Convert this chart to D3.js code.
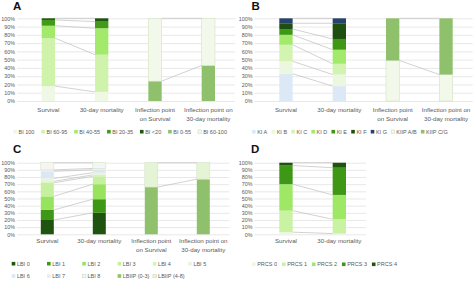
<!DOCTYPE html>
<html>
<head>
<meta charset="utf-8">
<script src="https://d3js.org/d3.v7.min.js"></script>
<style>
body { margin: 0; background: #fff; }
svg { display: block; font-family: "Liberation Sans", Arial, sans-serif; }
.tick-label { font-size: 5.4px; fill: #595959; }
.cat-label { font-size: 6.2px; fill: #595959; }
.legend-label { font-size: 5.5px; fill: #595959; }
.panel-letter { font-size: 11.5px; font-weight: bold; fill: #111; }
</style>
</head>
<body>
<div id="chart"></div>
<script>
// categories and ticks
var categories = ['Survival', '30-day mortality', 'Inflection point|on Survival', 'Inflection point on|30-day mortality'];
var categoriesD = ['Survival', '30-day mortality'];
var yTicks = [0, 10, 20, 30, 40, 50, 60, 70, 80, 90, 100];

// A - Barthel index
var biNames = ['BI 100', 'BI 60-95', 'BI 40-55', 'BI 20-35', 'BI <20'];
var biSurvival = [18, 58, 15, 7, 2];
var biMortality = [11, 45, 32, 8, 4];
var biipNames = ['BI 0-55', 'BI 60-100'];
var biipSurvival = [24, 76];
var biipMortality = [43, 57];

// B - Katz index
var kiNames = ['KI A', 'KI B', 'KI C', 'KI D', 'KI E', 'KI F', 'KI G'];
var kiSurvival = [33, 15, 20, 12, 7, 7, 6];
var kiMortality = [18, 14, 13, 17, 13, 19, 6];
var kiipNames = ['KIIP A/B', 'KIIP C/G'];
var kiipSurvival = [49, 51];
var kiipMortality = [32, 68];

// C - Lawton-Brody index
var lbiNames = ['LBI 0', 'LBI 1', 'LBI 2', 'LBI 3', 'LBI 4', 'LBI 5', 'LBI 6', 'LBI 7', 'LBI 8'];
var lbiSurvival = [20, 14, 19, 19, 2, 4, 10, 2, 10];
var lbiMortality = [30, 19, 21, 11, 2, 3, 4, 2, 8];
var lbiipNames = ['LBIIP (0-3)', 'LBIIP (4-8)'];
var lbiipSurvival = [66, 34];
var lbiipMortality = [77, 23];

// D - PRCS
var prcsNames = ['PRCS 0', 'PRCS 1', 'PRCS 2', 'PRCS 3', 'PRCS 4'];
var prcsSurvival = [3, 30, 37, 26, 4];
var prcsMortality = [1, 20, 34, 38, 7];

// colours
var biColors = ['#eef8e4', '#d0f3ac', '#a3e96c', '#42991a', '#1f5510'];
var biipColors = ['#8fc06c', '#f2f8ea'];
var kiColors = ['#dde8f6', '#ecf7e0', '#d3f4b0', '#a3e96c', '#3f9716', '#1f4f0e', '#26436f'];
var kiipColors = ['#f2f8ea', '#8fc06c'];
var lbiColors = ['#1f5410', '#3f9716', '#98e35e', '#c6f0a0', '#d6f3b6', '#e8f6d8', '#dde7f3', '#ececec', '#f5f5f5'];
var lbiipColors = ['#8fc06c', '#e6f4d6'];
var prcsColors = ['#ecf8e0', '#c9f2a3', '#9fe866', '#3f9716', '#1f5410'];
var paleStroke = '#d3e3c5';

var svg = d3.select('#chart').append('svg')
	.attr('width', 474)
	.attr('height', 282);

function tableFor(cats, names, survival, mortality) {
	var rows = [];
	[survival, mortality].forEach(function(vals, i) {
		var row = {cat: cats[i]};
		names.forEach(function(n, j) { row[n] = vals[j]; });
		rows.push(row);
	});
	return rows;
}

function drawPanel(p) {
	var g = svg.append('g');
	var x = d3.scaleBand().domain(p.cats).range([p.left, p.right]).padding(0);
	var y = d3.scaleLinear().domain([0, 100]).range([p.bottom, p.top]);
	var bw = x.bandwidth() * 0.25;
	var off = (x.bandwidth() - bw) / 2;

	// grid + y labels
	var grid = g.append('g')
		.attr('transform', 'translate(' + p.gridLeft + ',0)')
		.call(d3.axisLeft(y).tickValues(yTicks).tickSize(-(p.gridRight - p.gridLeft)).tickFormat(function(d) { return d + '%'; }));
	grid.select('.domain').remove();
	grid.selectAll('.tick line').attr('stroke', '#d9d9d9').attr('stroke-width', 0.6);
	grid.selectAll('.tick text').attr('class', 'tick-label').attr('x', -2);

	// stacked bars
	p.groups.forEach(function(grp, gi) {
		var cats = p.cats.slice(gi * 2, gi * 2 + 2);
		var rows = tableFor(cats, grp.names, grp.survival, grp.mortality);
		var layers = d3.stack().keys(grp.names)(rows);
		layers.forEach(function(layer, li) {
			g.append('g').selectAll('rect')
				.data(layer)
				.join('rect')
				.attr('x', function(d) { return x(d.data.cat) + off; })
				.attr('y', function(d) { return y(d[1]); })
				.attr('width', bw)
				.attr('height', function(d) { return y(d[0]) - y(d[1]); })
				.attr('fill', grp.colors[li])
				.attr('stroke', grp.pale && grp.pale.indexOf(li) >= 0 ? paleStroke : 'none')
				.attr('stroke-width', 0.6);
		});
		// series lines
		layers.forEach(function(layer) {
			g.append('line')
				.attr('x1', x(cats[0]) + off + bw)
				.attr('x2', x(cats[1]) + off)
				.attr('y1', y(layer[0][1]))
				.attr('y2', y(layer[1][1]))
				.attr('stroke', '#bfbfbf')
				.attr('stroke-width', 0.7);
		});
	});

	// category labels
	p.cats.forEach(function(c) {
		var t = g.append('text').attr('class', 'cat-label').attr('text-anchor', 'middle');
		c.split('|').forEach(function(line, i) {
			t.append('tspan')
				.attr('x', x(c) + x.bandwidth() / 2)
				.attr('y', p.labelY + i * 8.4)
				.text(line);
		});
	});

	// legend
	var names = [], colors = [], pale = [];
	p.groups.forEach(function(grp) {
		grp.names.forEach(function(n, i) {
			names.push(n);
			colors.push(grp.colors[i]);
			pale.push(grp.pale && grp.pale.indexOf(i) >= 0);
		});
	});
	var items = g.append('g').selectAll('g')
		.data(names)
		.join('g');
	items.append('rect')
		.attr('x', 0).attr('y', -1.8)
		.attr('width', 3.6).attr('height', 3.6)
		.attr('fill', function(d, i) { return colors[i]; })
		.attr('stroke', function(d, i) { return pale[i] ? '#c8d8ba' : 'none'; })
		.attr('stroke-width', 0.5);
	items.append('text')
		.attr('class', 'legend-label')
		.attr('x', 5.2)
		.attr('dy', '0.35em')
		.text(function(d) { return d; });

	var L = p.legend;
	if (L.cols) {
		items.attr('transform', function(d, i) {
			var col = i % L.cols, row = Math.floor(i / L.cols);
			return 'translate(' + (L.x0 + col * L.step) + ',' + (L.y + row * L.rowGap) + ')';
		});
	} else {
		var widths = [];
		items.each(function() {
			widths.push(5.2 + d3.select(this).select('text').node().getComputedTextLength());
		});
		var total = d3.sum(widths);
		var gap = (L.x1 - L.x0 - total) / (widths.length - 1);
		var cx = L.x0;
		items.attr('transform', function(d, i) {
			var tx = cx;
			cx += widths[i] + gap;
			return 'translate(' + tx + ',' + L.y + ')';
		});
	}

	svg.append('text').attr('class', 'panel-letter')
		.attr('x', p.letter[1]).attr('y', p.letter[2])
		.text(p.letter[0]);
}

drawPanel({
	cats: categories, left: 21.7, right: 235, gridLeft: 17, gridRight: 235, top: 18.3, bottom: 101,
	labelY: 112.2,
	groups: [
		{names: biNames, survival: biSurvival, mortality: biMortality, colors: biColors},
		{names: biipNames, survival: biipSurvival, mortality: biipMortality, colors: biipColors, pale: [1]}
	],
	legend: {x0: 13.3, x1: 227, y: 131.7},
	letter: ['A', 13, 10.2]
});

drawPanel({
	cats: categories, left: 259.3, right: 472.7, gridLeft: 254.5, gridRight: 472.7, top: 18.3, bottom: 101,
	labelY: 112.2,
	groups: [
		{names: kiNames, survival: kiSurvival, mortality: kiMortality, colors: kiColors},
		{names: kiipNames, survival: kiipSurvival, mortality: kiipMortality, colors: kiipColors, pale: [0]}
	],
	legend: {x0: 252, x1: 447.7, y: 131.7},
	letter: ['B', 251.5, 10.2]
});

drawPanel({
	cats: categories, left: 21.3, right: 229.3, gridLeft: 17, gridRight: 229.3, top: 162.7, bottom: 234.3,
	labelY: 243.2,
	groups: [
		{names: lbiNames, survival: lbiSurvival, mortality: lbiMortality, colors: lbiColors, pale: [8]},
		{names: lbiipNames, survival: lbiipSurvival, mortality: lbiipMortality, colors: lbiipColors, pale: [1]}
	],
	legend: {x0: 11.7, y: 263.7, cols: 6, step: 35.3, rowGap: 12.3},
	letter: ['C', 13, 153]
});

drawPanel({
	cats: categoriesD, left: 259.3, right: 366, gridLeft: 254.5, gridRight: 366, top: 162.7, bottom: 234.3,
	labelY: 243.2,
	groups: [
		{names: prcsNames, survival: prcsSurvival, mortality: prcsMortality, colors: prcsColors}
	],
	legend: {x0: 252, x1: 397, y: 264.3},
	letter: ['D', 251, 153]
});
</script>
</body>
</html>
